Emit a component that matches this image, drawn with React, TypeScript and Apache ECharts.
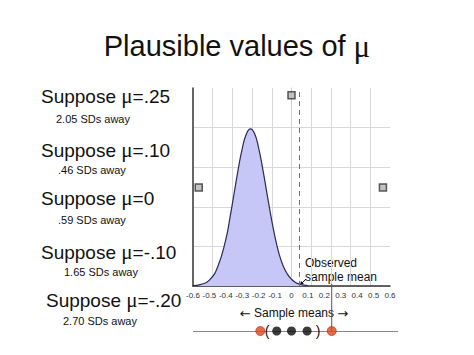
import React, { useEffect, useRef } from "react";
import * as echarts from "echarts";

// curve of sampling distribution
const curveX = [-0.6, -0.55, -0.5, -0.45, -0.4, -0.375, -0.35, -0.325, -0.3, -0.275, -0.25, -0.225, -0.2, -0.175, -0.15, -0.125, -0.1, -0.075, -0.05, -0.025, 0, 0.025, 0.05, 0.075, 0.1];
const curveY = [0.008, 0.04, 0.15, 0.48, 1.18, 1.72, 2.33, 2.94, 3.47, 3.84, 3.97, 3.85, 3.48, 2.95, 2.35, 1.76, 1.23, 0.8, 0.5, 0.3, 0.17, 0.09, 0.045, 0.02, 0.008];
const xTickLabels = ["-0.6", "-0.5", "-0.4", "-0.3", "-0.2", "-0.1", "0", "0.1", "0.2", "0.3", "0.4", "0.5", "0.6"];
const observedMean = 0.05;
const squaresX = [0, -0.565, 0.557];
const squaresY = [4.82, 2.49, 2.49];
const redMeans = [-0.19, 0.245];
const blackMeans = [-0.09, 0, 0.095];
const supposeLabels = ["Suppose ", "Suppose ", "Suppose ", "Suppose ", "Suppose "];
const muValues = ["=.25", "=.10", "=0", "=-.10", "=-.20"];
const sdAway = ["2.05 SDs away", ".46 SDs away", ".59 SDs away", "1.65 SDs away", "2.70 SDs away"];

const SANS = "'Liberation Sans', Arial, sans-serif";
const SERIF = "'Liberation Serif', 'Times New Roman', serif";

export default function App() {
  const ref = useRef<HTMLDivElement>(null);
  useEffect(() => {
    if (!ref.current) return;
    const chart = echarts.init(ref.current, null, { renderer: "svg" });

    const supY = [96, 150, 198, 252, 300];
    const supX = [41, 41, 41, 41, 46];
    const sdY = [119, 170, 220, 272, 321];
    const sdX = [56, 58, 58, 64, 63];

    const graphics: any[] = [
      {
        type: "text",
        x: 237,
        y: 46,
        style: {
          text: "{a|Plausible values of }{m|μ}",
          align: "center",
          verticalAlign: "middle",
          rich: {
            a: { fontFamily: SANS, fontSize: 29, fill: "#111" },
            m: { fontFamily: SERIF, fontSize: 31, fill: "#111" },
          },
        },
      },
    ];
    supposeLabels.forEach((s, i) => {
      graphics.push({
        type: "text",
        x: supX[i],
        y: supY[i],
        style: {
          text: `{a|${s}}{m|μ}{a|${muValues[i]}}`,
          align: "left",
          verticalAlign: "middle",
          rich: {
            a: { fontFamily: SANS, fontSize: 19, fill: "#111" },
            m: { fontFamily: SERIF, fontSize: 21, fill: "#111" },
          },
        },
      });
      graphics.push({
        type: "text",
        x: sdX[i],
        y: sdY[i],
        style: {
          text: sdAway[i],
          fontFamily: SANS,
          fontSize: 11,
          fill: "#111",
          align: "left",
          verticalAlign: "middle",
        },
      });
    });
    graphics.push(
      { type: "text", x: 305, y: 263, style: { text: "Observed", fontFamily: SANS, fontSize: 12, fill: "#111", verticalAlign: "middle" } },
      { type: "text", x: 305, y: 277, style: { text: "sample mean", fontFamily: SANS, fontSize: 12, fill: "#111", verticalAlign: "middle" } },
      { type: "line", shape: { x1: 306, y1: 279, x2: 301, y2: 284 }, style: { stroke: "#111", lineWidth: 1 } },
      { type: "polygon", shape: { points: [[300, 285], [301, 281], [304, 284]] }, style: { fill: "#111" } },
      {
        type: "text",
        x: 294,
        y: 313,
        style: {
          text: "{r|←} {a|Sample means} {r|→}",
          align: "center",
          verticalAlign: "middle",
          rich: {
            a: { fontFamily: SANS, fontSize: 12, fill: "#111" },
            r: { fontFamily: "'DejaVu Sans', sans-serif", fontSize: 13, fill: "#111" },
          },
        },
      },
      { type: "line", z: 0, shape: { x1: 193, y1: 331.5, x2: 398, y2: 331.5 }, style: { stroke: "#888", lineWidth: 1 } },
      { type: "text", x: 267, y: 331, style: { text: "(", fontFamily: SANS, fontSize: 14, fill: "#111", align: "center", verticalAlign: "middle" } },
      { type: "text", x: 318, y: 331, style: { text: ")", fontFamily: SANS, fontSize: 14, fill: "#111", align: "center", verticalAlign: "middle" } }
    );

    chart.setOption({
      animation: false,
      backgroundColor: "#fff",
      grid: [
        { left: 193, right: 84, top: 88, bottom: 69 },
        { left: 193, right: 84, top: 321, height: 20 },
      ],
      xAxis: [
        {
          type: "value",
          gridIndex: 0,
          min: -0.6,
          max: 0.6,
          interval: 0.1,
          axisLine: { show: true, onZero: false, lineStyle: { color: "#333", width: 1.5 } },
          axisTick: { show: false },
          splitLine: { show: false },
          axisLabel: {
            fontSize: 8,
            color: "#333",
            fontFamily: SANS,
            margin: 5,
            formatter: (v: number) => xTickLabels[Math.round((v + 0.6) / 0.1)] ?? "",
          },
        },
        {
          type: "value",
          gridIndex: 0,
          min: 0,
          max: 10,
          interval: 1,
          position: "top",
          axisLine: { show: false },
          axisTick: { show: false },
          axisLabel: { show: false },
          splitLine: { show: true, showMinLine: false, showMaxLine: false, lineStyle: { color: "#d8d8d8", width: 1 } },
        },
        {
          type: "value",
          gridIndex: 1,
          min: -0.6,
          max: 0.6,
          show: false,
        },
      ],
      yAxis: [
        {
          type: "value",
          gridIndex: 0,
          min: 0,
          max: 5,
          interval: 1,
          axisLine: { show: true, lineStyle: { color: "#d0d0d0" } },
          axisTick: { show: false },
          axisLabel: { show: false },
          splitLine: { show: true, showMaxLine: false, lineStyle: { color: "#d8d8d8", width: 1 } },
        },
        {
          type: "value",
          gridIndex: 0,
          min: 0,
          max: 5,
          position: "right",
          axisLine: { show: true, lineStyle: { color: "#333", width: 1.5 } },
          axisTick: { show: false },
          axisLabel: { show: false },
          splitLine: { show: false },
        },
        { type: "value", gridIndex: 1, min: 0, max: 2, show: false },
      ],
      series: [
        {
          type: "line",
          xAxisIndex: 0,
          yAxisIndex: 0,
          data: curveX.map((x, i) => [x, curveY[i]]),
          smooth: true,
          symbol: "none",
          lineStyle: { color: "#2a2a55", width: 1.2 },
          areaStyle: { color: "#c6c6f7", opacity: 1 },
          markLine: {
            silent: true,
            symbol: "none",
            label: { show: false },
            lineStyle: { color: "#6464d2", type: [5, 4], width: 1 },
            data: [{ xAxis: observedMean }],
          },
        },
        {
          type: "scatter",
          xAxisIndex: 0,
          yAxisIndex: 0,
          symbol: "rect",
          symbolSize: 7,
          data: squaresX.map((x, i) => [x, squaresY[i]]),
          itemStyle: { color: "#b4b4b4", borderColor: "#333", borderWidth: 1.5 },
        },
        {
          type: "line",
          xAxisIndex: 0,
          yAxisIndex: 0,
          clip: false,
          symbol: "none",
          data: [[redMeans[1], 0.05], [redMeans[1], -1.16]],
          lineStyle: { color: "#555", width: 1 },
        },
        {
          type: "scatter",
          xAxisIndex: 2,
          yAxisIndex: 2,
          symbolSize: 9,
          z: 5,
          data: blackMeans.map((x) => [x, 1]),
          itemStyle: { color: "#0a0a0a" },
        },
        {
          type: "scatter",
          xAxisIndex: 2,
          yAxisIndex: 2,
          symbolSize: 9,
          z: 5,
          data: redMeans.map((x) => [x, 1]),
          itemStyle: { color: "#e2451c", borderColor: "#a8300f", borderWidth: 0.8 },
        },
      ],
      graphic: graphics,
    });
    return () => chart.dispose();
  }, []);
  return (
    <div
      ref={ref}
      style={{ position: "fixed", left: 0, top: 0, width: 474, height: 355, background: "#fff" }}
    />
  );
}
